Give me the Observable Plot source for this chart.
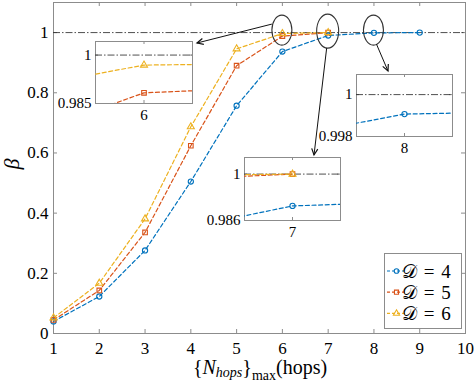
<!DOCTYPE html>
<html><head><meta charset="utf-8">
<script src="https://cdn.jsdelivr.net/npm/d3@7"></script>
<script src="https://cdn.jsdelivr.net/npm/@observablehq/plot@0.6"></script>
<style>
body{margin:0;background:#fff}
#wrap{position:relative;width:474px;height:386px;overflow:hidden}
#wrap svg{position:absolute;overflow:visible}
#wrap svg text, #wrap svg tspan{font-family:'Liberation Serif','Times New Roman',serif}
</style></head><body><div id="wrap"></div>
<script>
// ---- data ----
const hops = [1, 2, 3, 4, 5, 6, 7, 8, 9];
const betaD4 = [0.040, 0.123, 0.276, 0.505, 0.757, 0.937, 0.9904, 0.99907, 0.99995];
const betaD5 = [0.045, 0.143, 0.336, 0.624, 0.890, 0.9883, 1.0];
const betaD6 = [0.052, 0.167, 0.381, 0.687, 0.946, 0.9969, 1.0];
const seriesNames = ["𝒟 = 4", "𝒟 = 5", "𝒟 = 6"];
const seriesColors = ["#0072BD", "#D95319", "#EDB120"];
const seriesSymbols = ["circle", "square", "triangle"];
const xTicks = [1, 2, 3, 4, 5, 6, 7, 8, 9, 10];
const yTicks = [0, 0.2, 0.4, 0.6, 0.8, 1];
const yTickLabels = ["0", "0.2", "0.4", "0.6", "0.8", "1"];
// insets: zoom windows
const insetXDomains = [[5.945, 6.055], [6.944, 7.056], [7.95, 8.05]];
const insetYDomains = [[0.985, 1.0042], [0.986, 1.005], [0.998, 1.00096]];
const insetXTicks = [6, 7, 8];
const insetYBottoms = ["0.985", "0.986", "0.998"];

const rows = [];
[betaD4, betaD5, betaD6].forEach((arr, i) => arr.forEach((v, j) => rows.push({hops: hops[j], beta: v, D: seriesNames[i]})));

const font = "'Liberation Serif', 'Times New Roman', serif";
const frameColor = "#8c8c8c";
const W = 474, H = 386, mL = 53, mR = 9, mT = 2, mB = 53;
const pw = W - mL - mR, ph = H - mT - mB;
const colorScale = {domain: seriesNames, range: seriesColors};
const symbolScale = {domain: seriesNames, range: seriesSymbols};
const dash = "4,2.6";
const dashDot = "7,2,1.5,2";

const wrap = document.getElementById("wrap");

const main = Plot.plot({
  width: W, height: H, marginLeft: mL, marginRight: mR, marginTop: mT, marginBottom: mB,
  style: {fontFamily: font, fontSize: "17px", background: "transparent", color: "#000"},
  x: {domain: [1, 10], ticks: xTicks, tickSize: 0, tickPadding: 8, label: null},
  y: {domain: [0, 1.1], ticks: yTicks, tickSize: 0, tickPadding: 5, label: null,
      tickFormat: d => yTickLabels[yTicks.indexOf(d)]},
  color: colorScale, symbol: symbolScale,
  marks: [
    Plot.frame({stroke: frameColor, fill: "white"}),
    Plot.tickX(xTicks, {x: d => d, insetTop: ph - 4, stroke: frameColor}),
    Plot.tickX(xTicks, {x: d => d, insetBottom: ph - 4, stroke: frameColor}),
    Plot.tickY(yTicks, {y: d => d, insetRight: pw - 4, stroke: frameColor}),
    Plot.tickY(yTicks, {y: d => d, insetLeft: pw - 4, stroke: frameColor}),
    Plot.ruleY([1], {stroke: "#222", strokeWidth: 0.8, strokeDasharray: dashDot}),
    Plot.line(rows, {x: "hops", y: "beta", stroke: "D", z: "D", strokeWidth: 1.2, strokeDasharray: dash}),
    Plot.dot(rows, {x: "hops", y: "beta", stroke: "D", symbol: "D", r: 2.6, strokeWidth: 1.1, fill: "none"})
  ]
});
main.style.left = "0px"; main.style.top = "0px";
wrap.appendChild(main);

const sx = main.scale("x"), sy = main.scale("y");
const svg = d3.select(main);

// axis labels
const xl = svg.append("text").attr("x", 260).attr("y", 374)
  .attr("text-anchor", "middle").attr("font-size", 20).attr("fill", "#000");
xl.append("tspan").text("{");
xl.append("tspan").attr("font-style", "italic").text("N");
xl.append("tspan").attr("font-style", "italic").attr("font-size", 14).attr("dy", 3).text("hops");
xl.append("tspan").attr("dy", -3).text("}");
xl.append("tspan").attr("font-size", 14).attr("dy", 6).text("max");
xl.append("tspan").attr("dy", -6).text("(hops)");

svg.append("text").attr("transform", "translate(19,164) rotate(-90)")
  .attr("text-anchor", "middle").attr("font-style", "italic")
  .attr("font-size", 22).attr("fill", "#000").text("β");

// ellipses around zoomed points
const ellipses = insetXTicks.map((t, i) => ({cx: sx.apply(t), cy: sy.apply(1) - 2 + (i === 1 ? 1 : 0), rx: i === 1 ? 11 : 10, ry: i === 1 ? 17 : 15}));
svg.selectAll("ellipse.z").data(ellipses).join("ellipse")
  .attr("cx", d => d.cx).attr("cy", d => d.cy).attr("rx", d => d.rx).attr("ry", d => d.ry)
  .attr("fill", "none").attr("stroke", "#333").attr("stroke-width", 1.1);

// legend
const lg = svg.append("g");
lg.append("rect").attr("x", 384.5).attr("y", 253.5).attr("width", 77).attr("height", 75)
  .attr("fill", "white").attr("stroke", frameColor);
seriesNames.forEach((name, i) => {
  const y = 271 + i * 21.2;
  lg.append("line").attr("x1", 387).attr("x2", 406).attr("y1", y).attr("y2", y)
    .attr("stroke", seriesColors[i]).attr("stroke-width", 1.2).attr("stroke-dasharray", "3,2");
  const sym = d3.symbol(seriesSymbols[i] === "circle" ? d3.symbolCircle : seriesSymbols[i] === "square" ? d3.symbolSquare : d3.symbolTriangle, Math.PI * 2.3 * 2.3);
  lg.append("path").attr("d", sym()).attr("transform", `translate(396.5,${y})`)
    .attr("fill", "none").attr("stroke", seriesColors[i]).attr("stroke-width", 1.1);
  const parts = name.split(" ");
  const t = lg.append("text").attr("y", y + 6.5).attr("font-size", 19).attr("fill", "#000");
  t.append("tspan").attr("x", 409).text(parts[0]);
  t.append("tspan").attr("x", 429).text(parts[1]);
  t.append("tspan").attr("x", 446).text(parts[2]);
});

// insets
const insetBoxes = [
  {left: 95, top: 41, w: 97, h: 62},
  {left: 244, top: 157, w: 96, h: 63},
  {left: 356, top: 74, w: 96, h: 62}
];
const iml = 45, imt = 1, imr = 1, imb = 24;
insetBoxes.forEach((b, i) => {
  const xd = insetXDomains[i], yd = insetYDomains[i];
  const yt = [yd[0], 1];
  const ipw = b.w, iph = b.h;
  const p = Plot.plot({
    width: b.w + iml + imr, height: b.h + imt + imb,
    marginLeft: iml, marginTop: imt, marginRight: imr, marginBottom: imb,
    style: {fontFamily: font, fontSize: "15px", background: "transparent", color: "#000"},
    x: {domain: xd, ticks: [insetXTicks[i]], tickSize: 0, tickPadding: 6, label: null, tickFormat: d => String(d)},
    y: {domain: yd, ticks: yt, tickSize: 0, tickPadding: 4, label: null,
        tickFormat: d => d === 1 ? "1" : insetYBottoms[i]},
    color: colorScale, symbol: symbolScale,
    marks: [
      Plot.frame({stroke: frameColor, fill: "white"}),
      Plot.tickX([insetXTicks[i]], {x: d => d, insetTop: iph - 3, stroke: frameColor}),
      Plot.tickX([insetXTicks[i]], {x: d => d, insetBottom: iph - 3, stroke: frameColor}),
      Plot.tickY(yt, {y: d => d, insetRight: ipw - 3, stroke: frameColor}),
      Plot.tickY(yt, {y: d => d, insetLeft: ipw - 3, stroke: frameColor}),
      Plot.ruleY([1], {stroke: "#222", strokeWidth: 0.8, strokeDasharray: dashDot}),
      Plot.line(rows, {x: "hops", y: "beta", stroke: "D", z: "D", strokeWidth: 1.2, strokeDasharray: dash, clip: true}),
      Plot.dot(rows, {x: "hops", y: "beta", stroke: "D", symbol: "D", r: 2.6, strokeWidth: 1.1, fill: "none", clip: true})
    ]
  });
  p.style.left = (b.left - iml) + "px";
  p.style.top = (b.top - imt) + "px";
  wrap.appendChild(p);
});

// arrows from ellipses to insets (overlay)
const ov = d3.select(wrap).append("svg").attr("width", W).attr("height", H).style("left", "0px").style("top", "0px");
const arrows = [
  {x1: ellipses[0].cx - 10, y1: ellipses[0].cy - 6, x2: insetBoxes[0].left + insetBoxes[0].w + 5, y2: insetBoxes[0].top + 2},
  {x1: ellipses[1].cx - 1, y1: ellipses[1].cy + ellipses[1].ry, x2: insetBoxes[1].left + 70, y2: insetBoxes[1].top - 2},
  {x1: ellipses[2].cx + 3, y1: ellipses[2].cy + ellipses[2].ry - 1, x2: insetBoxes[2].left + 32, y2: insetBoxes[2].top - 3}
];
arrows.forEach(a => {
  const ang = Math.atan2(a.y2 - a.y1, a.x2 - a.x1);
  const L = 7, s = 0.45;
  ov.append("line").attr("x1", a.x1).attr("y1", a.y1).attr("x2", a.x2).attr("y2", a.y2)
    .attr("stroke", "#111").attr("stroke-width", 1);
  ov.append("path")
    .attr("d", `M${a.x2 - L * Math.cos(ang - s)},${a.y2 - L * Math.sin(ang - s)}L${a.x2},${a.y2}L${a.x2 - L * Math.cos(ang + s)},${a.y2 - L * Math.sin(ang + s)}`)
    .attr("fill", "none").attr("stroke", "#111").attr("stroke-width", 1.2);
});
</script></body></html>
